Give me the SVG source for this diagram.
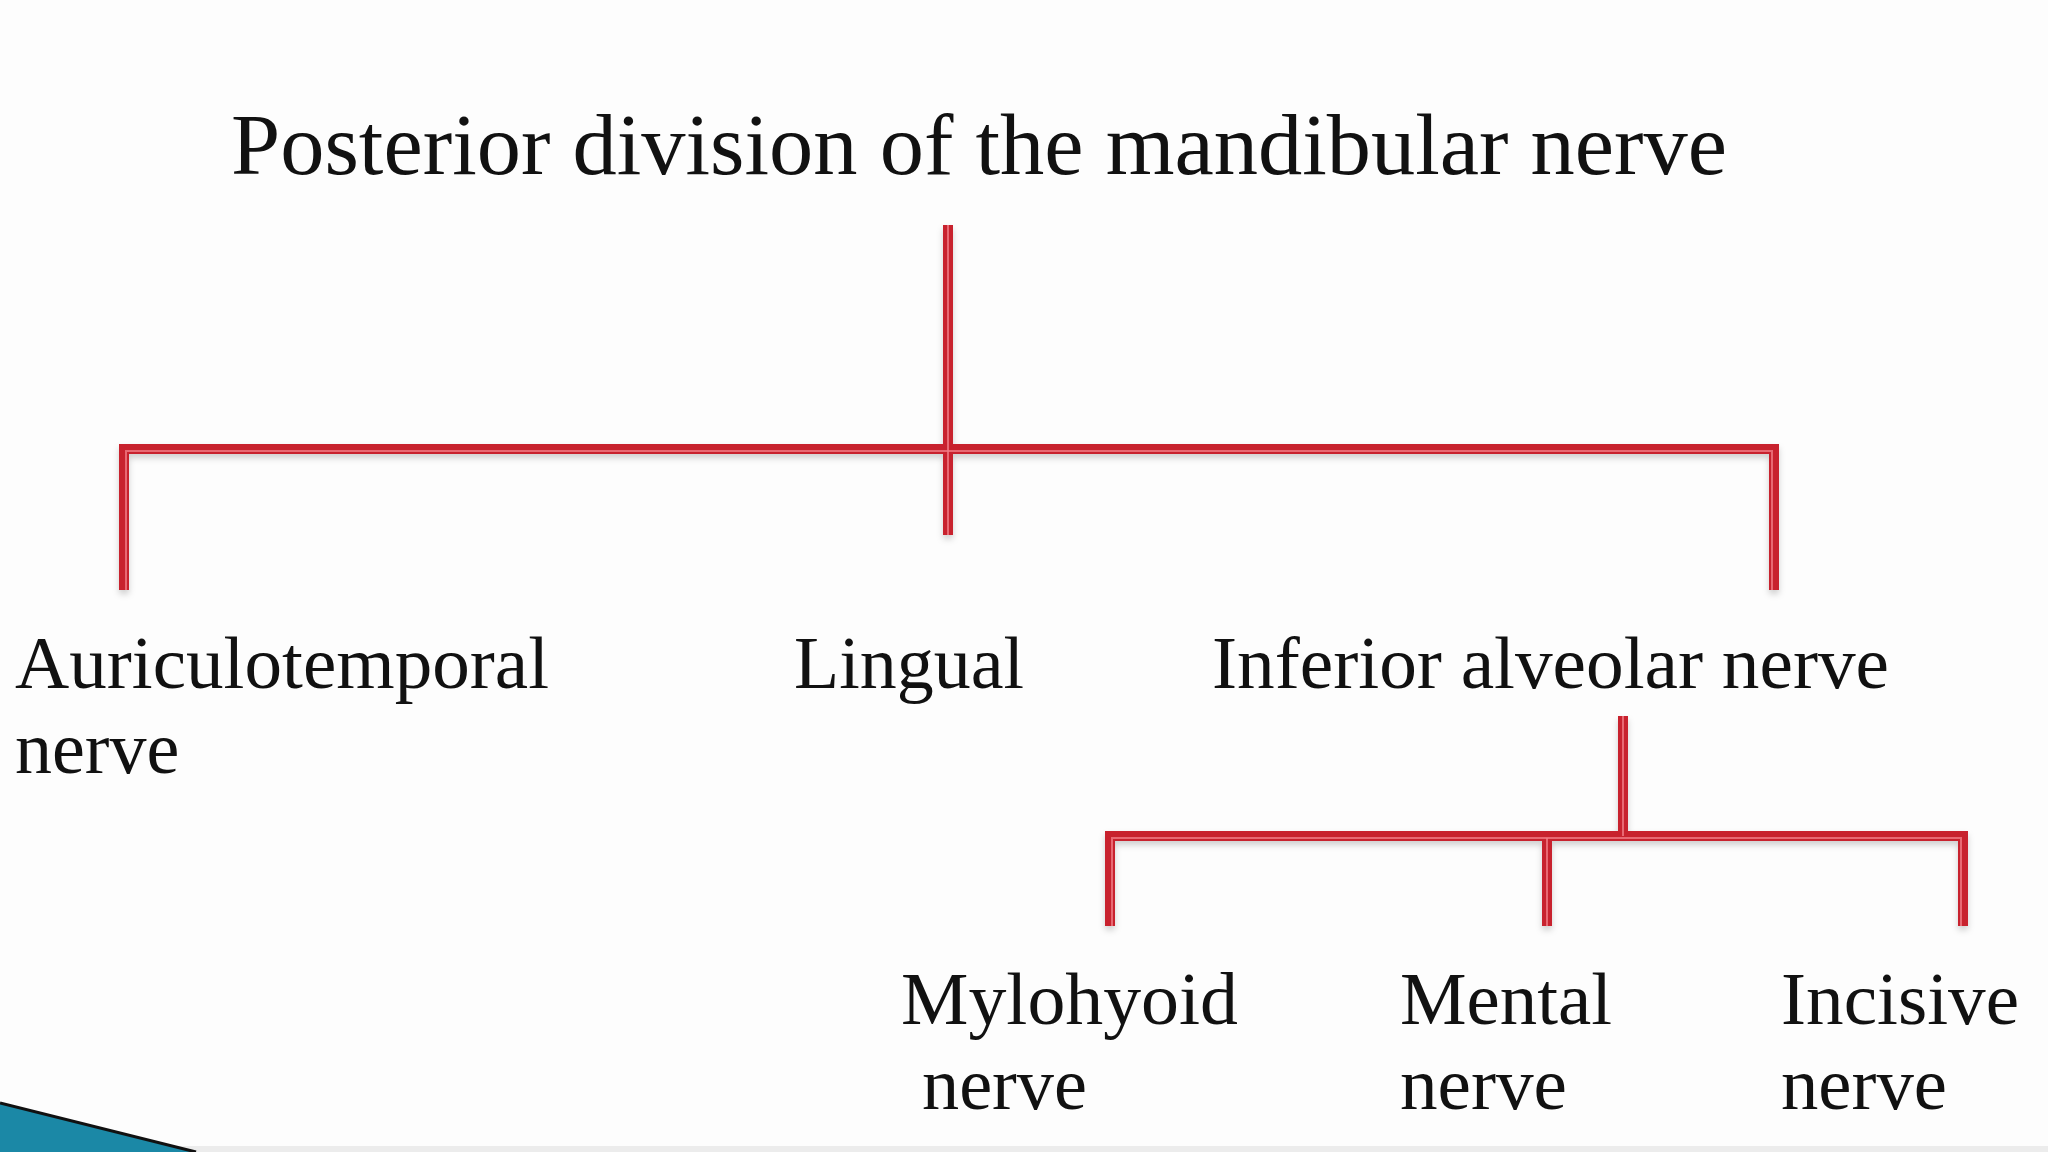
<svg xmlns="http://www.w3.org/2000/svg" width="2048" height="1152" viewBox="0 0 2048 1152">
  <defs>
    <style>
      .lbl { font-family: "Liberation Serif", "Times New Roman", serif; fill: #111111; }
      .t { font-size: 86px; }
      .n { font-size: 74px; }
      .wire { fill: none; stroke: #c8232f; stroke-width: 10; stroke-linejoin: miter; stroke-linecap: butt; }
      .hl { fill: none; stroke: #f07a84; stroke-width: 2; stroke-linejoin: miter; stroke-linecap: butt; opacity: 0.8; }
    </style>
    <filter id="shadow" x="-5%" y="-5%" width="110%" height="120%">
      <feDropShadow dx="0" dy="4" stdDeviation="3" flood-color="#000" flood-opacity="0.18"/>
    </filter>
  </defs>
  <rect x="0" y="0" width="2048" height="1152" fill="#fdfdfd"/>
  <rect x="0" y="1146" width="2048" height="6" fill="#ececec"/>
  <polygon points="0,1103 196,1152 0,1152" fill="#1b88a6"/>
  <line x1="0" y1="1103" x2="196" y2="1152" stroke="#111" stroke-width="3"/>

  <g id="connectors" filter="url(#shadow)">
    <path class="wire" d="M948,225 V535"/>
    <path class="wire" d="M124,590 V449 H1774 V590"/>
    <path class="wire" d="M1623,716 V836"/>
    <path class="wire" d="M1110,926 V836 H1963 V926"/>
    <path class="wire" d="M1547,836 V926"/>
    <path class="hl" d="M948,225 V535"/>
    <path class="hl" d="M126,590 V451 H1772 V590"/>
    <path class="hl" d="M1623,716 V836"/>
    <path class="hl" d="M1112,926 V838 H1961 V926"/>
    <path class="hl" d="M1547,838 V926"/>
  </g>

  <g id="root">
    <text class="lbl t" x="231" y="174" textLength="1496" lengthAdjust="spacingAndGlyphs">Posterior division of the mandibular nerve</text>
  </g>
  <g id="auriculotemporal">
    <text class="lbl n" x="15" y="688" textLength="534" lengthAdjust="spacingAndGlyphs">Auriculotemporal</text>
    <text class="lbl n" x="15" y="773">nerve</text>
  </g>
  <g id="lingual">
    <text class="lbl n" x="794" y="688" textLength="230" lengthAdjust="spacingAndGlyphs">Lingual</text>
  </g>
  <g id="inferior-alveolar">
    <text class="lbl n" x="1212" y="688" textLength="677" lengthAdjust="spacingAndGlyphs">Inferior alveolar nerve</text>
  </g>
  <g id="mylohyoid">
    <text class="lbl n" x="901" y="1024" textLength="337" lengthAdjust="spacingAndGlyphs">Mylohyoid</text>
    <text class="lbl n" x="922" y="1109" textLength="165" lengthAdjust="spacingAndGlyphs">nerve</text>
  </g>
  <g id="mental">
    <text class="lbl n" x="1400" y="1024" textLength="212" lengthAdjust="spacingAndGlyphs">Mental</text>
    <text class="lbl n" x="1400" y="1109" textLength="167" lengthAdjust="spacingAndGlyphs">nerve</text>
  </g>
  <g id="incisive">
    <text class="lbl n" x="1781" y="1024" textLength="238" lengthAdjust="spacingAndGlyphs">Incisive</text>
    <text class="lbl n" x="1781" y="1109" textLength="166" lengthAdjust="spacingAndGlyphs">nerve</text>
  </g>
</svg>
